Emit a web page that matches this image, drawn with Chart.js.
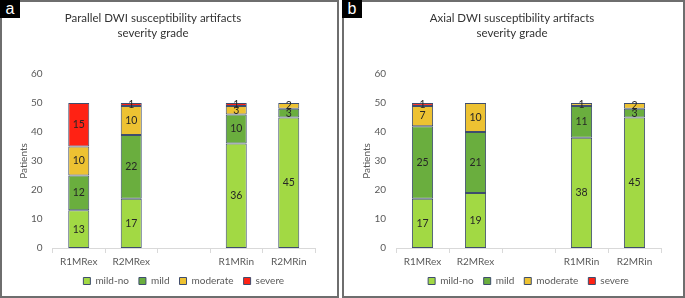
<!DOCTYPE html>
<html>
<head>
<meta charset="utf-8">
<script src="https://cdn.jsdelivr.net/npm/chart.js@4"></script>
<style>
  html, body { margin: 0; padding: 0; background: #fff; }
  body { width: 685px; height: 298px; position: relative; overflow: hidden; }
  .frame { position: absolute; top: 0; height: 298px; box-sizing: border-box; border: 2px solid #6e6e6e; }
  #frameA { left: 0; width: 339px; }
  #frameB { left: 342px; width: 343px; }
  canvas { position: absolute; top: 0; }
  #chartA { left: 0; }
  #chartB { left: 342px; }
  .tag { position: absolute; top: 0; width: 20px; height: 18px; background: #000; color: #fff;
         font: 16px "Liberation Sans", sans-serif; line-height: 17px; text-align: center; z-index: 2; }
</style>
</head>
<body>
<div class="frame" id="frameA"></div>
<div class="frame" id="frameB"></div>
<canvas id="chartA" width="339" height="298"></canvas>
<canvas id="chartB" width="343" height="298"></canvas>
<div class="tag" style="left:0">a</div>
<div class="tag" style="left:342px">b</div>
<script>
const categories = ["R1MRex", "R2MRex", "", "R1MRin", "R2MRin"];
const grades = ["mild-no", "mild", "moderate", "severe"];
const gradeColors = ["#A2D944", "#6AAE3E", "#EDC232", "#FF2214"];
const yTicks = [0, 10, 20, 30, 40, 50, 60];

// a: parallel DWI
const parallelMildNo   = [13, 17, null, 36, 45];
const parallelMild     = [12, 22, null, 10, 3];
const parallelModerate = [10, 10, null, 3, 2];
const parallelSevere   = [15, 1, null, 1, 0];

// b: axial DWI
const axialMildNo   = [17, 19, null, 38, 45];
const axialMild     = [25, 21, null, 11, 3];
const axialModerate = [7, 10, null, 1, 2];
const axialSevere   = [1, 0, null, 0, 0];

const FONT = "Lato";

// value written in the middle of each stacked piece
const segmentLabels = {
    id: "segmentLabels",
    afterDatasetsDraw(chart) {
        const ctx = chart.ctx;
        ctx.save();
        ctx.font = "10.5px " + FONT;
        ctx.fillStyle = "#262626";
        ctx.textAlign = "center";
        ctx.textBaseline = "middle";
        chart.data.datasets.forEach((ds, i) => {
            chart.getDatasetMeta(i).data.forEach((bar, j) => {
                const v = ds.data[j];
                if (!v) return;
                ctx.fillText(v, bar.x, (bar.y + bar.base) / 2);
            });
        });
        ctx.restore();
    }
};

// two-line title, not centred on the plot in the original
const panelTitle = {
    id: "panelTitle",
    afterDraw(chart, args, opts) {
        const ctx = chart.ctx;
        ctx.save();
        ctx.font = "11.5px " + FONT;
        ctx.fillStyle = "#333333";
        ctx.textAlign = "center";
        ctx.textBaseline = "middle";
        opts.lines.forEach((t, k) => ctx.fillText(t, opts.x, opts.y + k * opts.lineGap));
        ctx.restore();
    }
};

function makeChart(id, titleLines, titleX, leftWidth, titlePad, series) {
    return new Chart(document.getElementById(id), {
        type: "bar",
        data: {
            labels: categories,
            datasets: series.map((data, i) => ({
                label: grades[i],
                data: data,
                backgroundColor: gradeColors[i],
                borderColor: "#3E4D6E",
                borderWidth: 1,
                borderSkipped: false,
                categoryPercentage: 1,
                barPercentage: 0.4
            }))
        },
        options: {
            responsive: false,
            animation: false,
            layout: { padding: { left: 0, right: 24, top: 74, bottom: 2 } },
            scales: {
                x: {
                    stacked: true,
                    grid: { offset: true, drawOnChartArea: false, drawTicks: true, tickLength: 5, color: "#D9D9D9" },
                    border: { color: "#D9D9D9" },
                    ticks: { color: "#595959", font: { size: 10, family: FONT }, padding: 3, maxRotation: 0, autoSkip: false },
                    afterFit: s => { s.height = 18; }
                },
                y: {
                    stacked: true,
                    min: yTicks[0],
                    max: yTicks[yTicks.length - 1],
                    grid: { display: false, drawTicks: false },
                    border: { display: false },
                    afterBuildTicks: s => { s.ticks = yTicks.map(v => ({ value: v })); },
                    ticks: { color: "#595959", font: { size: 10, family: FONT }, padding: 10 },
                    title: { display: true, text: "Patients", color: "#595959", font: { size: 10, family: FONT }, padding: { top: titlePad, bottom: 0 } },
                    afterFit: s => { s.width = leftWidth; }
                }
            },
            plugins: {
                legend: {
                    position: "bottom",
                    fullSize: false,
                    labels: { boxWidth: 7, boxHeight: 7, padding: 10, color: "#595959", font: { size: 10, family: FONT } }
                },
                tooltip: { enabled: false },
                panelTitle: { lines: titleLines, x: titleX, y: 18, lineGap: 15 }
            }
        },
        plugins: [segmentLabels, panelTitle]
    });
}

makeChart("chartA", ["Parallel DWI susceptibility artifacts", "severity grade"], 153, 52.5, 18,
    [parallelMildNo, parallelMild, parallelModerate, parallelSevere]);
makeChart("chartB", ["Axial DWI susceptibility artifacts", "severity grade"], 170, 54, 19,
    [axialMildNo, axialMild, axialModerate, axialSevere]);
</script>
</body>
</html>
